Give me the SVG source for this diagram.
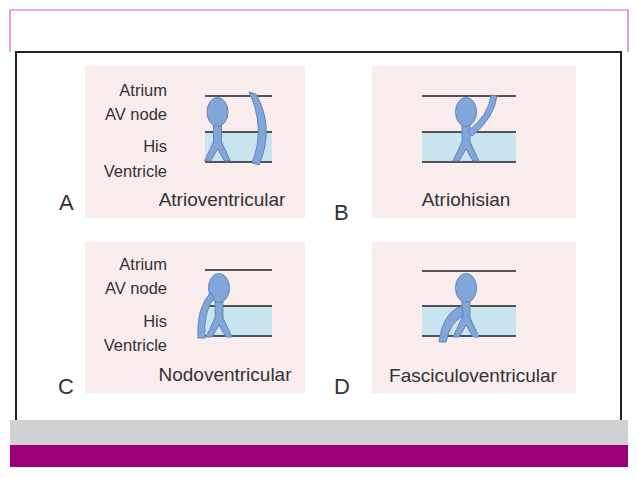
<svg xmlns="http://www.w3.org/2000/svg" width="638" height="478" viewBox="0 0 638 478">
<defs>
<style>
.panel{fill:#f9ecec}
.band{fill:#c9e3ef}
.ln{stroke:#222;stroke-width:1.5}
.bl{fill:#82a6d8;stroke:#5f86bb;stroke-width:1}
.lab{font-family:"Liberation Sans",Arial,sans-serif;font-size:16.5px;fill:#333;text-anchor:end}
.cap{font-family:"Liberation Sans",Arial,sans-serif;font-size:19px;fill:#333;text-anchor:middle}
.let{font-family:"Liberation Sans",Arial,sans-serif;font-size:22px;fill:#333}
</style>
<g id="node">
<path class="bl" d="M-4,12 L-4,30 L-13,49 L-7,49 L0,37 L7,49 L13,49 L4,30 L4,12 Z"/>
<ellipse class="bl" cx="0" cy="0" rx="10.5" ry="14.5"/>
</g>
</defs>
<rect width="638" height="478" fill="#fff"/>
<path d="M10,52 V10 H628 V52" fill="none" stroke="#d45cc0" stroke-width="1.2"/>
<rect x="16" y="52" width="605" height="372" fill="#fff" stroke="#222" stroke-width="2"/>
<rect x="10" y="420" width="618" height="25" fill="#d1d1d1"/>
<rect x="10" y="445" width="618" height="22" fill="#9b0079"/>
<g id="panelA">
<rect class="panel" x="85" y="66" width="220" height="152"/>
<rect class="band" x="205" y="132" width="67" height="30"/>
<line class="ln" x1="205" y1="96" x2="272" y2="96"/><line class="ln" x1="205" y1="132" x2="272" y2="132"/><line class="ln" x1="205" y1="162" x2="272" y2="162"/>
<use href="#node" x="217.5" y="112"/>
<path class="bl" d="M249,92 L256,94 Q275,128 259,165 L252,163 Q266,128 249,92 Z"/>
<text class="lab" x="167" y="96">Atrium</text><text class="lab" x="167" y="120">AV node</text><text class="lab" x="167" y="152">His</text><text class="lab" x="167" y="177">Ventricle</text>
<text class="cap" x="222" y="206">Atrioventricular</text>
<text class="let" x="59" y="210">A</text>
</g>
<g id="panelB">
<rect class="panel" x="372" y="66" width="204" height="152"/>
<rect class="band" x="422" y="132" width="94" height="30"/>
<line class="ln" x1="422" y1="96" x2="516" y2="96"/><line class="ln" x1="422" y1="132" x2="516" y2="132"/><line class="ln" x1="422" y1="162" x2="516" y2="162"/>
<use href="#node" x="466" y="112"/>
<path class="bl" d="M491,95 L497,96 Q494,118 472,136 L468,131 Q489,115 491,95 Z"/>
<text class="cap" x="466" y="206">Atriohisian</text>
<text class="let" x="334" y="220">B</text>
</g>
<g id="panelC">
<rect class="panel" x="85" y="242" width="220" height="151"/>
<rect class="band" x="205" y="306" width="67" height="30"/>
<line class="ln" x1="205" y1="270" x2="272" y2="270"/><line class="ln" x1="205" y1="306" x2="272" y2="306"/><line class="ln" x1="205" y1="336" x2="272" y2="336"/>
<use href="#node" x="219" y="288"/>
<path class="bl" d="M211,292 L214,298 Q203,312 205,338 L198,338 Q196,308 211,292 Z"/>
<text class="lab" x="167" y="270">Atrium</text><text class="lab" x="167" y="294">AV node</text><text class="lab" x="167" y="327">His</text><text class="lab" x="167" y="351">Ventricle</text>
<text class="cap" x="225" y="381">Nodoventricular</text>
<text class="let" x="58" y="394">C</text>
</g>
<g id="panelD">
<rect class="panel" x="372" y="242" width="204" height="151"/>
<rect class="band" x="422" y="306" width="94" height="30"/>
<line class="ln" x1="422" y1="271" x2="516" y2="271"/><line class="ln" x1="422" y1="306" x2="516" y2="306"/><line class="ln" x1="422" y1="336" x2="516" y2="336"/>
<use href="#node" x="466" y="288"/>
<path class="bl" d="M462,306 L463,316 Q450,322 446,342 L439,342 Q443,312 462,306 Z"/>
<text class="cap" x="473" y="382">Fasciculoventricular</text>
<text class="let" x="334" y="394">D</text>
</g>
</svg>
